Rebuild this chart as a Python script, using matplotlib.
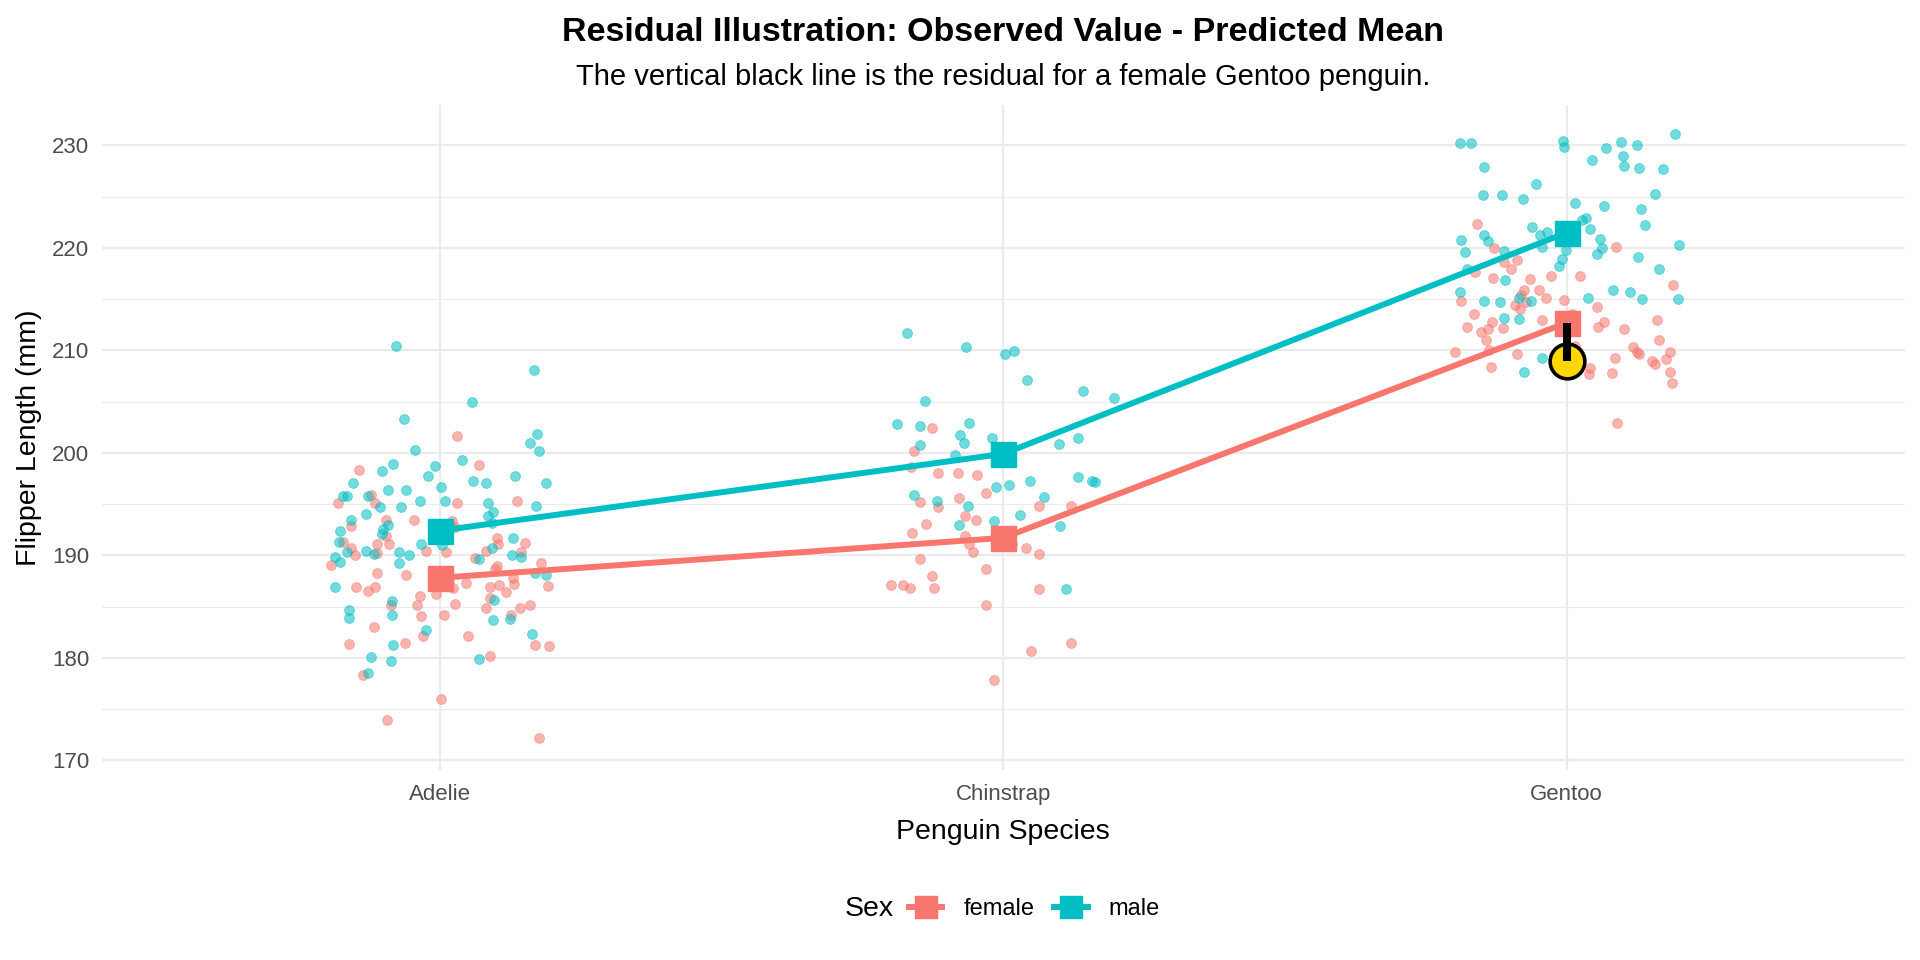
import numpy as np
import matplotlib.pyplot as plt
from matplotlib.lines import Line2D

plt.rcParams['font.family'] = ['Liberation Sans', 'DejaVu Sans']

species = ['Adelie', 'Chinstrap', 'Gentoo']
red = '#F8766D'
teal = '#00BFC4'

# jittered observations: (horizontal jitter offset, flipper length)
adelie_f = [(0.031, 201.6), (0.069, 198.8), (-0.144, 198.3),
            (-0.180, 195.1), (-0.121, 195.9), (-0.115, 195.1), (0.031, 195.1), (0.138, 195.3),
            (-0.157, 192.9), (-0.171, 191.3), (-0.157, 190.7), (-0.151, 190.0), (-0.193, 189.1),
            (-0.096, 193.4), (-0.095, 191.9), (-0.112, 191.1), (-0.090, 191.1), (-0.111, 190.2),
            (-0.046, 193.4), (-0.025, 190.4), (0.011, 190.3), (0.022, 193.3), (0.028, 192.8),
            (-0.112, 188.3), (-0.060, 188.1), (-0.149, 186.9), (-0.127, 186.5), (-0.114, 186.9),
            (-0.087, 185.1), (-0.041, 185.1), (-0.035, 186.0), (-0.034, 184.1), (-0.117, 183.0),
            (-0.030, 182.1), (-0.007, 186.2), (0.008, 184.2), (0.024, 186.8), (0.028, 185.2),
            (0.046, 187.3), (0.051, 182.1), (0.062, 189.7), (0.083, 190.4), (0.102, 191.7),
            (0.103, 191.1), (0.151, 191.2), (0.145, 190.3), (0.102, 189.0), (0.099, 188.7),
            (0.130, 187.8), (0.131, 187.2), (0.105, 187.1), (0.089, 186.9), (0.117, 186.4),
            (0.089, 185.8), (0.083, 184.9), (0.142, 184.9), (0.161, 185.1), (0.126, 184.2),
            (0.180, 189.2), (0.193, 187.0),
            (-0.161, 181.3), (-0.062, 181.4), (0.170, 181.2), (0.194, 181.1), (0.090, 180.2),
            (-0.136, 178.3), (0.003, 176.0), (-0.093, 173.9), (0.176, 172.2)]
adelie_m = [(-0.077, 210.4), (0.167, 208.1), (0.058, 205.0), (-0.064, 203.3), (0.173, 201.8),
            (0.161, 201.0), (0.177, 200.2), (-0.044, 200.3), (0.039, 199.3), (-0.102, 198.2),
            (-0.082, 198.9), (-0.009, 198.7), (-0.020, 197.7), (0.133, 197.7), (-0.153, 197.1),
            (0.060, 197.3), (0.083, 197.1), (0.189, 197.1), (0.002, 196.7), (-0.091, 196.4),
            (-0.060, 196.4),
            (-0.171, 195.8), (-0.165, 195.8), (-0.127, 195.8), (-0.106, 194.7), (-0.068, 194.7),
            (-0.035, 195.3), (0.009, 195.3), (0.086, 195.1), (0.095, 194.2), (0.086, 193.8),
            (0.093, 193.2), (0.171, 194.8), (-0.157, 193.4), (-0.130, 194.0), (-0.177, 192.4),
            (-0.179, 191.3), (-0.165, 190.3), (-0.186, 189.8), (-0.177, 189.3), (-0.092, 193.0),
            (-0.100, 192.6), (-0.103, 192.1), (-0.130, 190.4), (-0.117, 190.1), (-0.073, 190.3),
            (-0.073, 189.2), (-0.054, 190.0), (-0.034, 191.1), (0.005, 191.0), (-0.186, 186.9),
            (-0.085, 185.5), (-0.084, 184.2), (-0.161, 184.7), (-0.161, 183.9), (-0.025, 182.7),
            (0.070, 189.6), (0.093, 190.7), (0.130, 191.7), (0.129, 190.0), (0.144, 189.8),
            (0.097, 185.6), (0.125, 183.8), (0.095, 183.7), (0.170, 188.3), (0.188, 188.1),
            (0.163, 182.3),
            (-0.082, 181.2), (-0.121, 180.1), (-0.086, 179.7), (0.069, 179.9), (-0.127, 178.5)]
chinstrap_f = [(-0.127, 202.4), (-0.159, 200.2), (-0.163, 198.6), (-0.116, 198.0), (-0.081, 198.0),
               (-0.047, 197.8), (-0.031, 196.1), (-0.147, 195.2), (-0.078, 195.6), (-0.116, 194.7),
               (0.063, 194.8), (0.120, 194.8),
               (-0.067, 193.8), (-0.049, 193.4), (-0.137, 193.1), (-0.162, 192.2), (-0.068, 191.9),
               (-0.061, 191.1), (-0.054, 190.3), (0.041, 190.7), (0.064, 190.1), (-0.148, 189.6),
               (-0.031, 188.7), (-0.127, 188.0), (-0.199, 187.1), (-0.178, 187.1), (-0.165, 186.8),
               (-0.123, 186.8), (0.063, 186.7), (-0.031, 185.1), (0.121, 181.4), (0.050, 180.7),
               (-0.017, 177.8)]
chinstrap_m = [(-0.171, 211.7), (-0.066, 210.3), (0.004, 209.6), (0.019, 209.9), (0.043, 207.1),
               (0.141, 206.0), (0.196, 205.4), (-0.138, 205.1), (-0.189, 202.8), (-0.148, 202.6),
               (-0.060, 202.9), (-0.076, 201.7), (-0.070, 201.0), (-0.019, 201.4), (-0.147, 200.8),
               (-0.086, 199.8), (0.099, 200.9), (0.132, 201.4), (0.132, 197.6), (0.158, 197.3),
               (0.163, 197.2), (0.047, 197.3), (0.010, 196.9), (-0.012, 196.7), (-0.159, 195.9),
               (-0.117, 195.3), (0.073, 195.7), (-0.062, 194.8),
               (-0.079, 193.0), (-0.017, 193.3), (0.030, 193.9), (0.100, 192.9), (0.016, 191.1),
               (0.111, 186.7)]
gentoo_f = [(-0.159, 222.3), (0.087, 220.1), (-0.129, 220.0), (-0.111, 218.6), (-0.089, 218.8),
            (-0.098, 217.9), (-0.163, 217.7), (-0.131, 217.1), (-0.065, 217.0), (-0.028, 217.3),
            (0.024, 217.3), (0.188, 216.4),
            (-0.188, 214.8), (-0.076, 215.9), (-0.050, 215.9), (-0.037, 215.1), (-0.081, 215.4),
            (-0.072, 214.7), (-0.091, 214.4), (-0.083, 214.0), (-0.004, 214.9), (0.053, 214.2),
            (-0.165, 213.6), (-0.133, 212.8), (-0.140, 212.1), (-0.153, 211.8), (-0.177, 212.3),
            (-0.113, 212.2), (-0.044, 213.0), (-0.143, 211.0), (-0.138, 210.0), (-0.199, 209.8),
            (-0.089, 209.6), (-0.135, 208.4), (0.009, 213.6), (0.067, 212.8), (0.056, 212.3),
            (0.101, 212.1), (0.161, 213.0), (0.163, 211.0), (0.118, 210.3), (0.124, 209.8),
            (0.129, 209.6), (0.085, 209.3), (0.184, 209.8), (0.177, 209.2), (0.152, 209.0),
            (0.157, 208.7), (0.041, 208.3), (0.039, 207.7), (0.080, 207.8), (0.184, 207.9),
            (0.186, 206.8), (0.089, 202.9), (0.015, 210.4)]
gentoo_m = [(-0.189, 230.2), (-0.170, 230.2), (-0.007, 230.4), (-0.005, 229.9), (0.069, 229.8),
            (0.096, 230.3), (0.124, 230.0), (0.192, 231.1), (0.099, 229.0), (0.044, 228.6),
            (0.101, 228.0), (0.128, 227.8), (0.170, 227.7), (-0.147, 227.9), (-0.055, 226.2),
            (-0.149, 225.2), (-0.115, 225.2), (-0.077, 224.8), (0.157, 225.3), (0.014, 224.4),
            (0.067, 224.1), (0.131, 223.8), (0.034, 222.9), (0.028, 222.7), (0.041, 221.8),
            (0.139, 222.2), (-0.061, 222.0), (-0.048, 221.3), (-0.035, 221.6), (-0.147, 221.3),
            (-0.139, 220.7), (-0.188, 220.8), (0.059, 220.9), (0.062, 220.0), (0.053, 219.4),
            (0.199, 220.3), (-0.044, 220.1), (-0.002, 219.8), (-0.111, 219.7), (-0.180, 219.6),
            (-0.008, 218.9), (-0.014, 218.2), (0.126, 219.1), (0.163, 217.9), (-0.177, 217.9),
            (-0.109, 216.9),
            (-0.189, 215.7), (-0.146, 214.8), (-0.119, 214.7), (-0.084, 215.1), (-0.064, 214.8),
            (0.037, 215.1), (0.082, 215.9), (0.113, 215.7), (0.133, 215.0), (0.197, 215.0),
            (-0.112, 213.2), (-0.084, 213.1), (-0.044, 209.3), (-0.076, 207.9)]

mean_female = [187.8, 191.7, 212.7]
mean_male = [192.4, 199.9, 221.5]

# the highlighted female Gentoo penguin
highlight_species = 2
highlight_value = 209.0

fig = plt.figure(figsize=(19.2, 9.6), dpi=100)
ax = fig.add_axes([0.0529, 0.198, 0.9392, 0.6926])

groups = [(adelie_f, 0, red), (adelie_m, 0, teal),
          (chinstrap_f, 1, red), (chinstrap_m, 1, teal),
          (gentoo_f, 2, red), (gentoo_m, 2, teal)]
for pts, pos, col in groups:
    arr = np.array(pts)
    ax.scatter(pos + arr[:, 0], arr[:, 1], s=50, color=col, alpha=0.55,
               edgecolors=col, linewidths=0.6, zorder=2)

xpos = np.arange(len(species))
ax.plot(xpos, mean_female, color=red, lw=4.3, zorder=3, solid_capstyle='butt')
ax.plot(xpos, mean_male, color=teal, lw=4.3, zorder=3, solid_capstyle='butt')
ax.plot(xpos, mean_female, 's', color=red, markersize=18, zorder=4)
ax.plot(xpos, mean_male, 's', color=teal, markersize=18, zorder=4)

ax.plot([highlight_species], [highlight_value], 'o', markersize=25,
        markerfacecolor='#FFD700', markeredgecolor='black', markeredgewidth=2.6, zorder=5)
ax.plot([highlight_species, highlight_species],
        [highlight_value, mean_female[highlight_species]],
        color='black', lw=5.8, zorder=6, solid_capstyle='butt')

ax.set_xlim(-0.6, 2.6)
ax.set_ylim(169.05, 233.95)
ax.set_xticks(xpos)
ax.set_xticklabels(species)
ax.set_yticks(np.arange(170, 231, 10))
ax.set_yticks(np.arange(175, 230, 10), minor=True)
ax.set_axisbelow(True)
ax.grid(True, which='major', color='#EBEBEB', lw=1.6)
ax.yaxis.grid(True, which='minor', color='#EBEBEB', lw=0.8)
for s in ax.spines.values():
    s.set_visible(False)
ax.tick_params(which='both', length=0)
ax.tick_params(axis='y', labelsize=16, labelcolor='#4D4D4D', pad=9)
ax.tick_params(axis='x', labelsize=16, labelcolor='#4D4D4D', pad=10)

ax.set_xlabel('Penguin Species', fontsize=20.5, labelpad=10)
ax.set_ylabel('Flipper Length (mm)', fontsize=20.5, labelpad=7)

cx = 0.5225
fig.text(cx, 0.966, 'Residual Illustration: Observed Value - Predicted Mean',
         ha='center', va='center', fontsize=24.5, fontweight='bold')
fig.text(cx, 0.920, 'The vertical black line is the residual for a female Gentoo penguin.',
         ha='center', va='center', fontsize=21)

h_f = Line2D([], [], color=red, lw=4.3, marker='s', markersize=16)
h_m = Line2D([], [], color=teal, lw=4.3, marker='s', markersize=16)
fig.text(0.44, 0.053, 'Sex', ha='left', va='center', fontsize=20.5)
fig.legend([h_f, h_m], ['female', 'male'], loc='center left', bbox_to_anchor=(0.4735, 0.053),
           ncol=2, frameon=False, fontsize=17, handlelength=1.4, handletextpad=0.9,
           columnspacing=0.85, borderpad=0, borderaxespad=0)

fig.savefig('out.png', dpi=100)
